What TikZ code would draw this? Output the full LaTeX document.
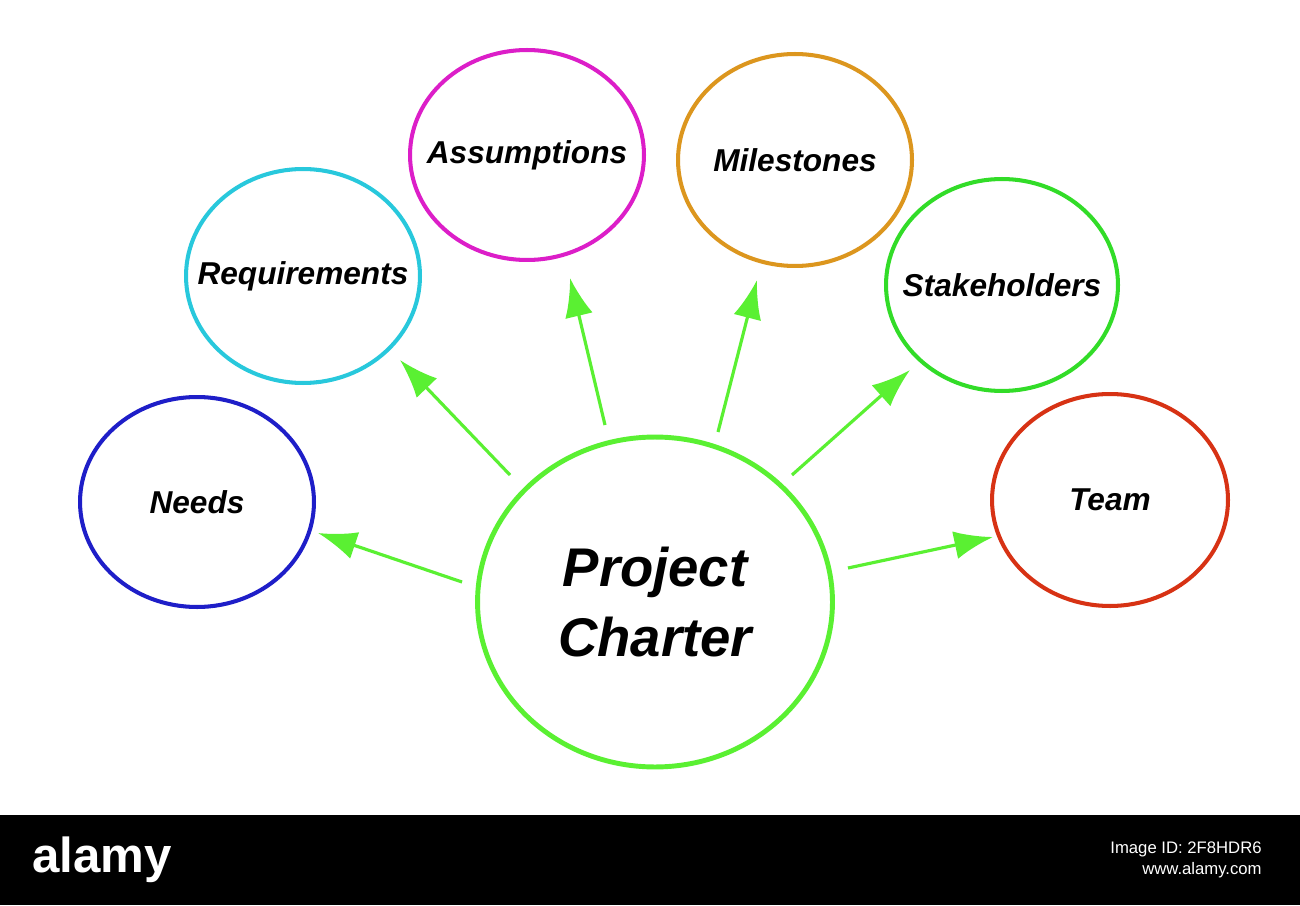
\documentclass[tikz,border=0pt]{standalone}
\usepackage{fontspec}
\setmainfont{Liberation Sans}
\usetikzlibrary{shapes.geometric,arrows.meta}
\definecolor{cblue}{RGB}{30,30,200}
\definecolor{ccyan}{RGB}{40,200,220}
\definecolor{cmag}{RGB}{220,30,200}
\definecolor{corange}{RGB}{220,150,30}
\definecolor{cgreen}{RGB}{50,220,40}
\definecolor{cred}{RGB}{215,50,20}
\definecolor{cbig}{RGB}{90,240,50}
\tikzset{
 bub/.style={ellipse, draw, line width=2.3pt, inner sep=0pt, label={[font=\bfseries\itshape\fontsize{18}{22}\selectfont]center:#1}},
 arr/.style={draw=cbig, line width=1.8pt, -{Latex[length=22pt,width=16pt]}},
}
\begin{document}
\begin{tikzpicture}[x=0.02cm,y=-0.02cm]
\useasboundingbox (0,0) rectangle (1300,905);
\fill[white] (0,0) rectangle (1300,815);
\fill[black] (0,815) rectangle (1300,905);
\node[white, font=\bfseries\fontsize{28}{30}\selectfont] (al) at (102,860) {alamy};
\node[white, font=\fontsize{9.5}{12}\selectfont, align=right] (id) at (1186,860) {Image ID: 2F8HDR6\\www.alamy.com};
\node[bub={Needs}, draw=cblue, minimum width=4.68cm, minimum height=4.2cm] (n1) at (197,502) {};
\node[bub={Requirements}, draw=ccyan, minimum width=4.68cm, minimum height=4.28cm] (n2) at (303,276) {};
\node[bub={Assumptions}, draw=cmag, minimum width=4.68cm, minimum height=4.2cm] (n3) at (527,155) {};
\node[bub={Milestones}, draw=corange, minimum width=4.68cm, minimum height=4.24cm] (n4) at (795,160) {};
\node[bub={Stakeholders}, draw=cgreen, minimum width=4.64cm, minimum height=4.24cm] (n5) at (1002,285) {};
\node[bub={Team}, draw=cred, minimum width=4.72cm, minimum height=4.24cm] (n6) at (1110,500) {};
\node[ellipse, draw=cbig, line width=2.8pt, minimum width=7.1cm, minimum height=6.6cm, inner sep=0pt] (pc) at (655,602) {};
\node[align=center, font=\bfseries\itshape\fontsize{31}{40}\selectfont] (pct) at (pc.center) {Project\\Charter};
\coordinate (s1) at (462,582); \coordinate (e1) at (318,533);
\coordinate (s2) at (510,475); \coordinate (e2) at (400,360);
\coordinate (s3) at (605,425); \coordinate (e3) at (570,278);
\coordinate (s4) at (718,432); \coordinate (e4) at (757,280);
\coordinate (s5) at (792,475); \coordinate (e5) at (910,370);
\coordinate (s6) at (848,568); \coordinate (e6) at (993,537);
\foreach \i in {1,...,6} \draw[arr] (s\i) -- (e\i);
\end{tikzpicture}
\end{document}
